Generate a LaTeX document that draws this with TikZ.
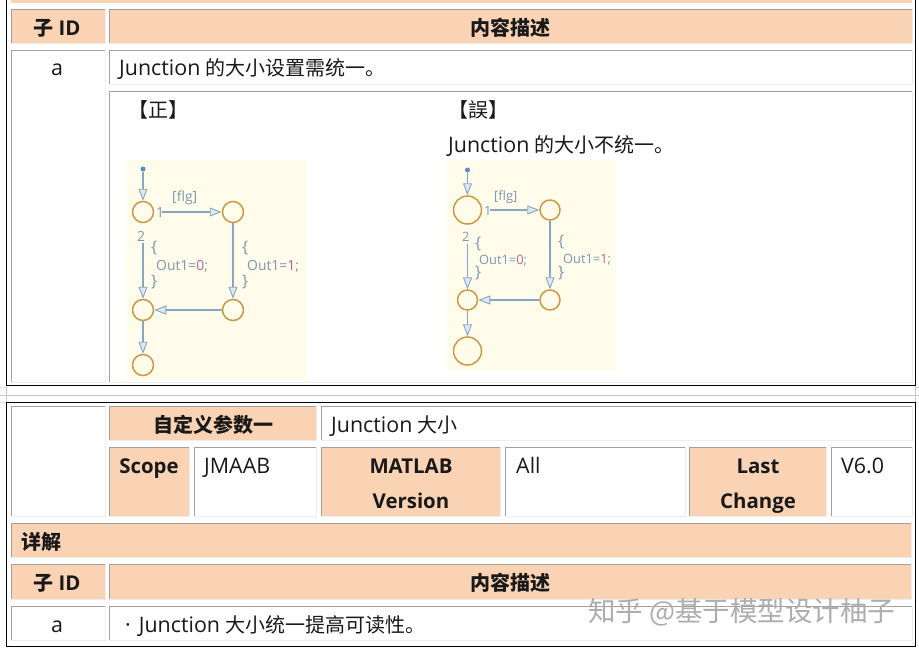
\documentclass[tikz,border=0pt]{standalone}
\usepackage{fontspec}
\usetikzlibrary{arrows.meta}
\setmainfont{Open Sans}[Scale=1.07,BoldFeatures={Scale=1.02}]
\newfontfamily\cjk{Noto Sans CJK SC}
\newcommand\zh[1]{{\cjk #1}}
\definecolor{headfill}{HTML}{FAD3B4}
\definecolor{cellline}{HTML}{A0A0A0}
\definecolor{celledge}{HTML}{EDEDED}
\definecolor{chartbg}{HTML}{FFFCEB}
\definecolor{junc}{HTML}{CC9A45}
\definecolor{flowc}{HTML}{8AA5BF}
\definecolor{labc}{HTML}{7E97AE}
\definecolor{numc}{HTML}{B565A0}
\definecolor{tipc}{HTML}{DCE8F3}
\definecolor{dotc}{HTML}{5F8DB8}
\newcommand\cellbox[5]{%
  \fill[#5] (#1,#2) rectangle (#3,#4);
  \draw[celledge,line width=.8pt] (#3,#2) -- (#3,#4) -- (#1,#4);
  \draw[cellline,line width=1pt] (#1,#4) -- (#1,#2) -- (#3,#2);
}
\tikzset{
  x=1pt,y=-1pt,
  body/.style={inner sep=0pt,anchor=base west,font=\fontsize{20}{24}\selectfont,text=black!90},
  bodyc/.style={inner sep=0pt,anchor=base,font=\fontsize{20}{24}\selectfont,text=black!90},
  headc/.style={inner sep=0pt,anchor=base,font=\fontsize{20}{24}\selectfont\bfseries,text=black!90},
  frameline/.style={black,line width=.9pt},
  juncsmall/.style={circle,draw=junc,line width=1.5pt,minimum size=21pt,inner sep=0pt},
  juncbig/.style={circle,draw=junc,line width=1.5pt,minimum size=28pt,inner sep=0pt},
  juncmid/.style={circle,draw=junc,line width=1.5pt,minimum size=20pt,inner sep=0pt},
  srcdot/.style={circle,fill=dotc,minimum size=5pt,inner sep=0pt},
  flow/.style={draw=flowc,line width=1.3pt,-{Triangle[length=12pt,width=9pt,fill=tipc,line width=.9pt]}},
  lab/.style={inner sep=0pt,anchor=base west,text=labc,font=\fontsize{13}{15}\selectfont},
  labr/.style={inner sep=0pt,anchor=base west,text=labc,font=\fontsize{12}{15}\selectfont},
  brace/.style={inner sep=0pt,anchor=base west,text=labc,font=\fontsize{15}{15}\selectfont},
}
\begin{document}
\begin{tikzpicture}
\useasboundingbox (0,0) rectangle (919,649);
\fill[white] (0,0) rectangle (919,649);
% top table
\fill[headfill] (11,0) rectangle (912,2.5);
\cellbox{11}{9}{105}{43}{headfill}
\cellbox{109}{9}{912}{43}{headfill}
\cellbox{11}{50}{105}{382}{white}
\cellbox{109}{50}{912}{84}{white}
\cellbox{109}{91}{912}{382}{white}
% gap lines between the frames
\draw[black!22,line width=.8pt] (0,395) -- (919,395);
\draw[black!12,line width=.8pt] (0,387) -- (6,387) (0,402) -- (6,402) (916,387) -- (919,387) (916,402) -- (919,402);
\draw[black!22,line width=.8pt] (6.5,385) -- (6.5,402) (915.5,385) -- (915.5,402);
% bottom table
\cellbox{11}{406}{105}{516}{white}
\cellbox{109}{406}{316}{440}{headfill}
\cellbox{321}{406}{912}{440}{white}
\cellbox{109}{447}{189}{516}{headfill}
\cellbox{194}{447}{316}{516}{white}
\cellbox{321}{447}{500}{516}{headfill}
\cellbox{505}{447}{685}{516}{white}
\cellbox{689}{447}{826}{516}{headfill}
\cellbox{831}{447}{912}{516}{white}
\cellbox{11}{523}{911}{557}{headfill}
\cellbox{11}{564}{105}{599}{headfill}
\cellbox{109}{564}{911}{599}{headfill}
\cellbox{11}{606}{105}{640}{white}
\cellbox{109}{606}{912}{640}{white}
% frames
\draw[frameline] (6.5,0) -- (6.5,385) -- (915.5,385) -- (915.5,0);
\draw[frameline] (6.5,402) rectangle (915.5,646);
% texts top
\node[headc] (h1) at (57,35) {\zh{\bfseries 子} ID};
\node[headc] (h2) at (510,35) {\zh{\bfseries 内容描述}};
\node[bodyc] (a1) at (57,75) {a};
\node[body] (t1) at (119,75) {Junction \zh{的大小设置需统一。}};
\node[body] (ok) at (128,117) {\zh{【正】}};
\node[body] (ng) at (448,117) {\zh{【誤】}};
\node[body] (t2) at (448,152) {Junction \zh{的大小不统一。}};
% left chart
\fill[chartbg] (127,160) rectangle (306,380);
\node[srcdot] (ls) at (143,169) {};
\node[juncsmall] (l1) at (143,212) {};
\node[juncsmall] (l2) at (233,212) {};
\node[juncsmall] (l3) at (143,310) {};
\node[juncsmall] (l4) at (233,310) {};
\node[juncsmall] (l5) at (143,365) {};
\draw[flow] (ls) -- (l1);
\draw[flow,shorten <=8pt] (l1) -- (l2);
\draw[flow,shorten <=20pt] (l1) -- (l3);
\draw[flow] (l2) -- (l4);
\draw[flow] (l4) -- (l3);
\draw[flow] (l3) -- (l5);
\node[lab] (lf) at (172,201) {[flg]};
\node[lab] (ln1) at (156,217) {1};
\node[lab] (ln2) at (137,241) {2};
\node[brace] (lo1) at (151,252) {\{};
\node[lab] (lv0) at (156,270) {Out1=\textcolor{numc}{0};};
\node[brace] (lc1) at (151,286) {\}};
\node[brace] (lo2) at (242,252) {\{};
\node[lab] (lv1) at (247,270) {Out1=\textcolor{numc}{1};};
\node[brace] (lc2) at (242,286) {\}};
% right chart
\fill[chartbg] (447,160) rectangle (616,370);
\node[srcdot] (rs) at (467.5,170) {};
\node[juncbig] (r1) at (467.5,210) {};
\node[juncmid] (r2) at (550,210) {};
\node[juncmid] (r3) at (467.5,300) {};
\node[juncmid] (r4) at (550,300) {};
\node[juncbig] (r5) at (467.5,351) {};
\draw[flow] (rs) -- (r1);
\draw[flow,shorten <=8pt] (r1) -- (r2);
\draw[flow,shorten <=19pt] (r1) -- (r3);
\draw[flow] (r2) -- (r4);
\draw[flow] (r4) -- (r3);
\draw[flow] (r3) -- (r5);
\node[labr] (rf) at (494,200) {[flg]};
\node[labr] (rn1) at (484,215) {1};
\node[labr] (rn2) at (462,241) {2};
\node[brace] (ro1) at (475,248) {\{};
\node[labr] (rv0) at (479,264) {Out1=\textcolor{numc}{0};};
\node[brace] (rc1) at (475,277) {\}};
\node[brace] (ro2) at (558,246) {\{};
\node[labr] (rv1) at (563,263) {Out1=\textcolor{numc}{1};};
\node[brace] (rc2) at (558,277) {\}};
% texts bottom
\node[headc] (p1) at (213,432) {\zh{\bfseries 自定义参数一}};
\node[body] (p2) at (331,432) {Junction \zh{大小}};
\node[headc] (s1) at (149,473) {Scope};
\node[body] (s2) at (204,473) {JMAAB};
\node[headc,align=center] (m1a) at (411,473) {MATLAB};
\node[headc] (m1b) at (411,508) {Version};
\node[body] (m2) at (516,473) {All};
\node[headc] (c1a) at (758,473) {Last};
\node[headc] (c1b) at (758,508) {Change};
\node[body] (v) at (841,473) {V6.0};
\node[body,font=\fontsize{20}{24}\selectfont\bfseries] (d) at (21,549) {\zh{\bfseries 详解}};
\node[headc] (h3) at (57,590) {\zh{\bfseries 子} ID};
\node[headc] (h4) at (510,590) {\zh{\bfseries 内容描述}};
\node[bodyc] (a2) at (57,632) {a};
\node[body] (t3) at (125,632) {\textperiodcentered\hspace{8pt}Junction \zh{大小统一提高可读性。}};
% watermark
\node[inner sep=0pt,anchor=base west,text=black!32,font=\fontsize{27.5}{30}\selectfont] (wm) at (588,621) {\zh{知乎 @基于模型设计柚子}};
\end{tikzpicture}
\end{document}
